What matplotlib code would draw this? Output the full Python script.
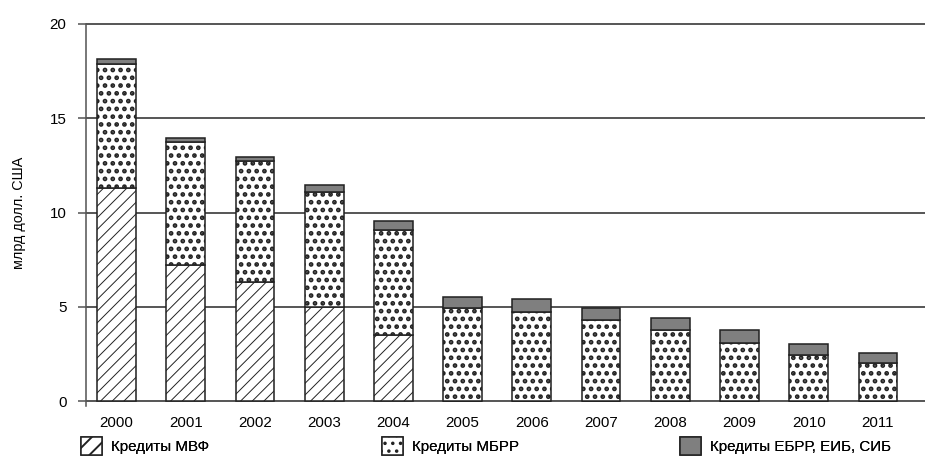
import matplotlib.pyplot as plt
import matplotlib as mpl
from matplotlib.patches import Patch
import numpy as np

years = ["2000", "2001", "2002", "2003", "2004", "2005",
         "2006", "2007", "2008", "2009", "2010", "2011"]
imf = [11.3, 7.2, 6.3, 5.0, 3.5, 0, 0, 0, 0, 0, 0, 0]
ibrd = [6.58, 6.55, 6.43, 6.1, 5.6, 4.95, 4.75, 4.28, 3.77, 3.11, 2.46, 2.01]
ebrd = [0.28, 0.19, 0.21, 0.37, 0.47, 0.55, 0.68, 0.67, 0.65, 0.65, 0.56, 0.54]

labels = ["Кредиты МВФ", "Кредиты МБРР", "Кредиты ЕБРР, ЕИБ, СИБ"]

plt.rcParams['font.family'] = ['Liberation Sans', 'DejaVu Sans']
dpi = 140
fig = plt.figure(figsize=(938 / dpi, 464 / dpi), dpi=dpi)
ax = fig.add_axes([86 / 938, 1 - 406 / 464, 839 / 938, 386 / 464])

x = np.arange(len(years))
w = 0.56
edge = "#222222"

with mpl.rc_context({'hatch.linewidth': 0.5, 'hatch.color': '#333333'}):
    ax.bar(x, imf, w, color="white", edgecolor=edge, linewidth=0.8, hatch="////", zorder=3)
    h1 = Patch(facecolor="white", edgecolor=edge, hatch="///", linewidth=0.8)
with mpl.rc_context({'hatch.linewidth': 1.6, 'hatch.color': 'black'}):
    ax.bar(x, ibrd, w, bottom=imf, color="white", edgecolor=edge, linewidth=0.8, hatch="...", zorder=3)
    h2 = Patch(facecolor="white", edgecolor=edge, hatch="...", linewidth=0.8)
bottom2 = np.array(imf) + np.array(ibrd)
ax.bar(x, ebrd, w, bottom=bottom2, color="#7f7f7f", edgecolor=edge, linewidth=0.8, zorder=3)
h3 = Patch(facecolor="#7f7f7f", edgecolor=edge, linewidth=0.8)

for v in [0, 5, 10, 15, 20]:
    ax.axhline(v, color="#555555", linewidth=1.0, zorder=1)

ax.set_xlim(-0.44, 11.68)
ax.set_ylim(-0.25, 20.2)
ax.set_yticks([0, 5, 10, 15, 20])
ax.set_xticks(x)
ax.set_xticklabels(years)
ax.tick_params(axis='x', length=0, labelsize=7.8, pad=5)
ax.tick_params(axis='y', length=4, width=0.8, color="#555555", labelsize=7.8, pad=6)
for s in ["top", "right", "bottom"]:
    ax.spines[s].set_visible(False)
ax.spines["left"].set_color("#555555")
ax.spines["left"].set_bounds(-0.25, 20)
ax.set_ylabel("млрд долл. США", fontsize=7.4, labelpad=12)

xpos = [70 / 938, 371 / 938, 669 / 938]
for h, lab, xp in zip([h1, h2, h3], labels, xpos):
    fig.add_artist(fig.legend([h], [lab], loc="center left", bbox_to_anchor=(xp, 1 - 446 / 464),
                              frameon=False, fontsize=7.8, handlelength=1.4, handleheight=1.4,
                              handletextpad=0.6, borderpad=0.2))

fig.savefig("out.png", dpi=dpi)
